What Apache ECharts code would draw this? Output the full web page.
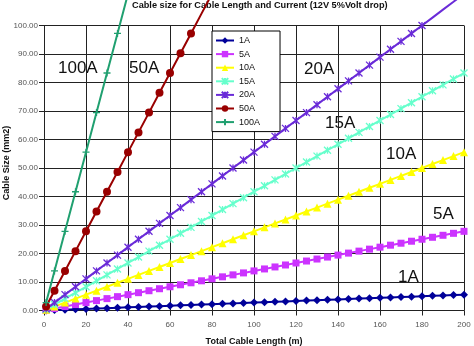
<!DOCTYPE html>
<html>
<head>
<meta charset="utf-8">
<script src="https://cdn.jsdelivr.net/npm/echarts@6/dist/echarts.min.js"></script>
<style>html,body{margin:0;padding:0;background:#fff}#c{width:474px;height:346px}</style>
</head>
<body>
<div id="c"></div>
<script>
// Data
var lengths = [1,5,10,15,20,25,30,35,40,45,50,55,60,65,70,75,80,85,90,95,100,105,110,115,120,125,130,135,140,145,150,155,160,165,170,175,180,185,190,195,200];
var s1A = [0.03,0.14,0.28,0.42,0.56,0.69,0.83,0.97,1.11,1.25,1.39,1.53,1.67,1.81,1.94,2.08,2.22,2.36,2.50,2.64,2.78,2.92,3.06,3.19,3.33,3.47,3.61,3.75,3.89,4.03,4.17,4.31,4.44,4.58,4.72,4.86,5.00,5.14,5.28,5.42,5.56];
var s5A = [0.14,0.69,1.39,2.08,2.78,3.47,4.17,4.86,5.56,6.25,6.94,7.64,8.33,9.03,9.72,10.42,11.11,11.81,12.50,13.19,13.89,14.58,15.28,15.97,16.67,17.36,18.06,18.75,19.44,20.14,20.83,21.53,22.22,22.92,23.61,24.31,25.00,25.69,26.39,27.08,27.78];
var s10A = [0.28,1.39,2.78,4.17,5.56,6.94,8.33,9.72,11.11,12.50,13.89,15.28,16.67,18.06,19.44,20.83,22.22,23.61,25.00,26.39,27.78,29.17,30.56,31.94,33.33,34.72,36.11,37.50,38.89,40.28,41.67,43.06,44.44,45.83,47.22,48.61,50.00,51.39,52.78,54.17,55.56];
var s15A = [0.42,2.08,4.17,6.25,8.33,10.42,12.50,14.58,16.67,18.75,20.83,22.92,25.00,27.08,29.17,31.25,33.33,35.42,37.50,39.58,41.67,43.75,45.83,47.92,50.00,52.08,54.17,56.25,58.33,60.42,62.50,64.58,66.67,68.75,70.83,72.92,75.00,77.08,79.17,81.25,83.33];
var s20A = [0.56,2.78,5.56,8.33,11.11,13.89,16.67,19.44,22.22,25.00,27.78,30.56,33.33,36.11,38.89,41.67,44.44,47.22,50.00,52.78,55.56,58.33,61.11,63.89,66.67,69.44,72.22,75.00,77.78,80.56,83.33,86.11,88.89,91.67,94.44,97.22,100.00,102.78,105.56,108.33,111.11];
var s50A = [1.39,6.94,13.89,20.83,27.78,34.72,41.67,48.61,55.56,62.50,69.44,76.39,83.33,90.28,97.22,104.17,111.11];
var s100A = [2.78,13.89,27.78,41.67,55.56,69.44,83.33,97.22,111.11];
var seriesNames = ['1A','5A','10A','15A','20A','50A','100A'];
var xTicks = [0,20,40,60,80,100,120,140,160,180,200];
var yTicks = [0,10,20,30,40,50,60,70,80,90,100];

var FONT = 'Liberation Sans, Arial, sans-serif';
var colors = ['#000099','#CC33FF','#FFFF00','#66FFCC','#6A2BD8','#990000','#20A070'];
var symbols = ['diamond','rect','triangle',
  'path://M0,0L10,10M10,0L0,10M5,0L5,10',
  'path://M0,0L10,10M10,0L0,10M5,0L5,10',
  'circle',
  'path://M5,0L5,10M0,5L10,5'];
var symSizes = [8,7,8,7,7,8,7];
var dataSets = [s1A,s5A,s10A,s15A,s20A,s50A,s100A];

function pairs(vals){ return vals.map(function(v,i){ return [lengths[i], v]; }); }

var series = seriesNames.map(function(n,k){
  var path = symbols[k].indexOf('path://') === 0;
  var sz = symSizes[k];
  return {
    name: n, type: 'line', data: pairs(dataSets[k]),
    clip: false,
    symbol: symbols[k],
    symbolSize: function(v){ return v[1] > 100.5 ? 0 : sz; },
    showAllSymbol: true,
    lineStyle: { color: colors[k], width: 2 },
    itemStyle: { color: colors[k], borderColor: colors[k], borderWidth: path ? 1.3 : 0 },
    z: 3 + k
  };
});

var chart = echarts.init(document.getElementById('c'), null, {renderer: 'canvas'});
chart.setOption({
  animation: false,
  backgroundColor: '#fff',
  title: {
    text: 'Cable size for Cable Length and Current (12V 5%Volt drop)',
    left: 132, top: 0.5, padding: 0,
    textStyle: { fontFamily: FONT, fontSize: 9.2, fontWeight: 'bold', color: '#111' }
  },
  grid: { left: 44, right: 10, top: 25.5, bottom: 35.5, containLabel: false, outerBoundsMode: 'none' },
  xAxis: {
    type: 'value', min: 0, max: 200, interval: 20,
    name: 'Total Cable Length (m)', nameLocation: 'middle', nameGap: 27,
    nameTextStyle: { fontFamily: FONT, fontSize: 9, fontWeight: 'bold', color: '#111' },
    axisLine: { show: true, lineStyle: { color: '#222', width: 1 } },
    axisTick: { show: true, length: 5, inside: false, lineStyle: { color: '#222' } },
    axisLabel: { fontFamily: FONT, fontSize: 8, color: '#555', margin: 10,
      formatter: function(v){ return xTicks.indexOf(v) >= 0 ? String(v) : ''; } },
    splitLine: { show: true, lineStyle: { color: '#222', width: 1 } }
  },
  yAxis: {
    type: 'value', min: 0, max: 100, interval: 10,
    axisLine: { show: true, lineStyle: { color: '#222', width: 1 } },
    axisTick: { show: true, length: 5, inside: false, lineStyle: { color: '#222' } },
    axisLabel: { fontFamily: FONT, fontSize: 8, color: '#555', margin: 6,
      formatter: function(v){ return yTicks.indexOf(v) >= 0 ? v.toFixed(2) : ''; } },
    splitLine: { show: true, lineStyle: { color: '#222', width: 1 } }
  },
  legend: {
    orient: 'vertical', left: 212, top: 31,
    padding: [5, 20, 5, 3],
    itemGap: 4.6, itemWidth: 18, itemHeight: 8,
    backgroundColor: '#fff', borderColor: '#000', borderWidth: 1, borderRadius: 0,
    textStyle: { fontFamily: FONT, fontSize: 9, color: '#111' },
    data: seriesNames
  },
  graphic: [
    { type: 'text', x: 7, y: 163, rotation: Math.PI / 2,
      style: { text: 'Cable Size (mm2)', font: 'bold 9px ' + FONT, fill: '#111', textAlign: 'center', textVerticalAlign: 'middle' } },
    { type: 'text', left: 58, top: 60, style: { text: '100A', font: '17px ' + FONT, fill: '#111' } },
    { type: 'text', left: 129, top: 60, style: { text: '50A', font: '17px ' + FONT, fill: '#111' } },
    { type: 'text', left: 304, top: 61, style: { text: '20A', font: '17px ' + FONT, fill: '#111' } },
    { type: 'text', left: 325, top: 115, style: { text: '15A', font: '17px ' + FONT, fill: '#111' } },
    { type: 'text', left: 386, top: 146, style: { text: '10A', font: '17px ' + FONT, fill: '#111' } },
    { type: 'text', left: 433, top: 206, style: { text: '5A', font: '17px ' + FONT, fill: '#111' } },
    { type: 'text', left: 398, top: 269, style: { text: '1A', font: '17px ' + FONT, fill: '#111' } }
  ],
  series: series
});
</script>
</body>
</html>
